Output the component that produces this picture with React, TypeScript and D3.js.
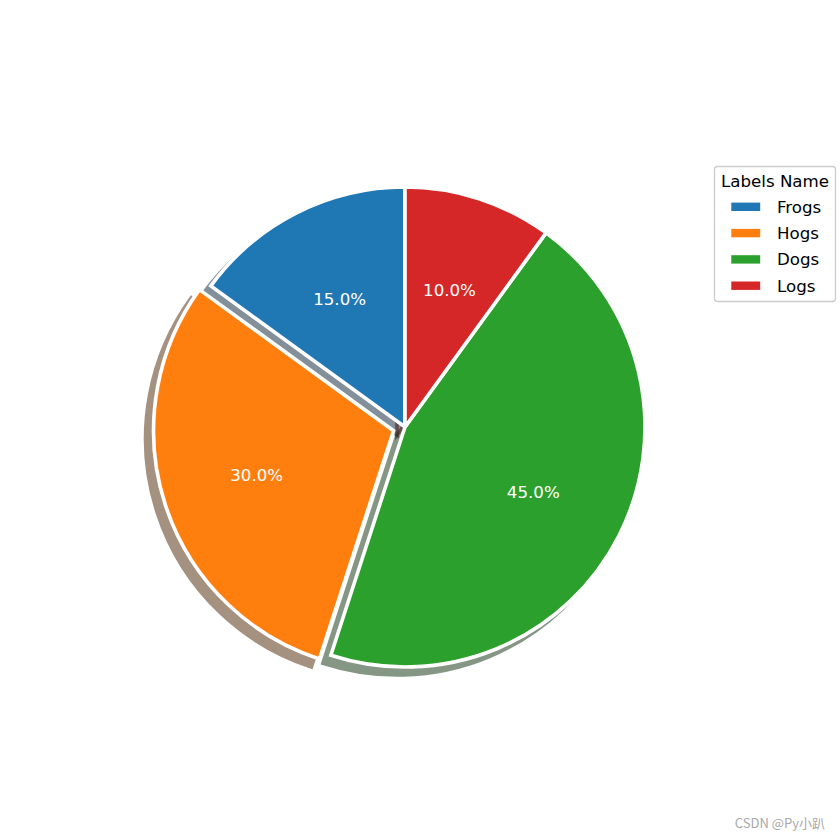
import React from "react";
import * as d3 from "d3";

const labels = ["Frogs", "Hogs", "Dogs", "Logs"];
const sizes = [15, 30, 45, 10];
const explode = [0, 0.05, 0, 0];
const colors = ["#1f77b4", "#ff7f0e", "#2ca02c", "#d62728"];
const legendTitle = "Labels Name";
const watermark = "CSDN @Py小趴";

const W = 840;
const H = 840;
const cx = 405;
const cy = 427;
const R = 240;
const shadowDx = -8;
const shadowDy = 8;
const edgeW = 3.6;
const fs = 16.67;
const font = "'DejaVu Sans', sans-serif";

function darken(c: string) {
  const col = d3.rgb(c);
  return d3.rgb(col.r * 0.3, col.g * 0.3, col.b * 0.3).formatHex();
}

export default function App() {
  const data = labels.map((l, i) => ({ label: l, value: sizes[i], ex: explode[i], color: colors[i] }));
  const pie = d3
    .pie<any>()
    .sort(null)
    .value((d: any) => d.value)
    .startAngle(0)
    .endAngle(-2 * Math.PI);
  const arcs = pie(data);
  const arc = d3.arc<any>().innerRadius(0).outerRadius(R);

  const offsets = arcs.map((a) => {
    const mid = (a.startAngle + a.endAngle) / 2;
    const e = a.data.ex * R;
    return { dx: Math.sin(mid) * e, dy: -Math.cos(mid) * e, mid };
  });

  const legendX = 714.5;
  const legendY = 166.5;
  const rowY = [206.8, 233.1, 259.4, 285.7];

  return (
    <svg width={W} height={H} style={{ position: "absolute", left: 0, top: 0 }}>
      <rect width={W} height={H} fill="#ffffff" />
      <g transform={`translate(${cx},${cy})`}>
        {arcs.map((a, i) => (
          <path
            key={"s" + i}
            d={arc(a) as string}
            transform={`translate(${offsets[i].dx + shadowDx},${offsets[i].dy + shadowDy})`}
            fill={darken(a.data.color)}
            stroke={darken(a.data.color)}
            strokeWidth={edgeW}
            opacity={0.5}
          />
        ))}
        {arcs.map((a, i) => (
          <path
            key={"w" + i}
            d={arc(a) as string}
            transform={`translate(${offsets[i].dx},${offsets[i].dy})`}
            fill={a.data.color}
            stroke="#ffffff"
            strokeWidth={edgeW}
            strokeLinejoin="miter"
          />
        ))}
        {arcs.map((a, i) => {
          const m = offsets[i].mid;
          const r = 0.6 * R;
          const x = Math.sin(m) * r + offsets[i].dx;
          const y = -Math.cos(m) * r + offsets[i].dy;
          const pct = ((a.data.value / d3.sum(sizes)) * 100).toFixed(1) + "%";
          return (
            <text
              key={"t" + i}
              x={x}
              y={y}
              dy="0.35em"
              textAnchor="middle"
              fill="#ffffff"
              fontFamily={font}
              fontSize={fs}
            >
              {pct}
            </text>
          );
        })}
      </g>
      <g>
        <rect
          x={legendX}
          y={legendY}
          width={121}
          height={135}
          rx={3}
          fill="#ffffff"
          fillOpacity={0.8}
          stroke="#cccccc"
          strokeWidth={1.3}
        />
        <text x={775} y={180.7} dy="0.35em" textAnchor="middle" fontFamily={font} fontSize={fs} fill="#000">
          {legendTitle}
        </text>
        {labels.map((l, i) => (
          <g key={"l" + i}>
            <rect
              x={729.5}
              y={rowY[i] - 6}
              width={32.5}
              height={12}
              fill={colors[i]}
              stroke="#ffffff"
              strokeWidth={edgeW}
            />
            <text x={777} y={rowY[i]} dy="0.35em" fontFamily={font} fontSize={fs} fill="#000">
              {l}
            </text>
          </g>
        ))}
      </g>
      <text
        x={825}
        y={828}
        textAnchor="end"
        fontFamily="'Noto Sans CJK SC', 'Liberation Sans', sans-serif"
        fontSize={13}
        fill="#a8a8a8"
      >
        {watermark}
      </text>
    </svg>
  );
}
